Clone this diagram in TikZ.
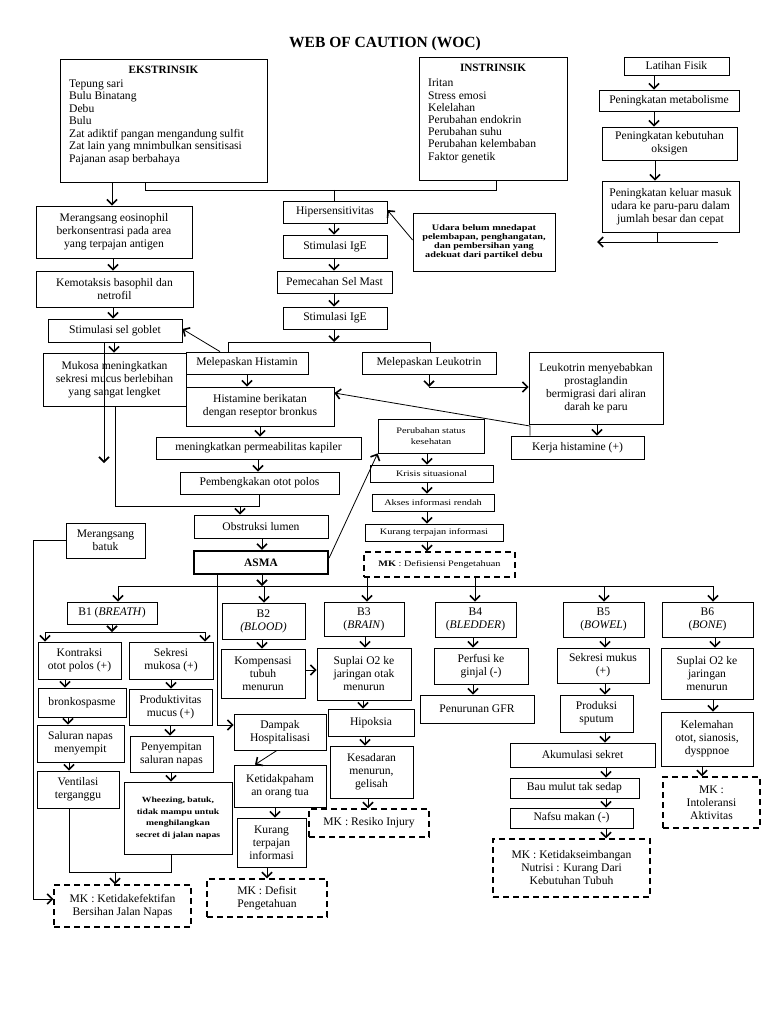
\documentclass[tikz,border=0pt]{standalone}
\usepackage{fontspec}
\setmainfont{Liberation Serif}
\newfontfamily\widefont[FakeStretch=1.22]{Liberation Serif}
\usetikzlibrary{arrows.meta}
\newcommand\mybox[7][]{\node[box,#1,minimum width={(#4-#2)*1pt},minimum height={(#5-#3)*1pt}] (#6) at ({(#2+#4)/2},{(#3+#5)/2}) {#7};}
\begin{document}
\begin{tikzpicture}[x=1pt,y=-1pt,
  box/.style={draw, line width=0.8pt, inner sep=1pt, align=center, font=\fontsize{11.6}{13}\selectfont},
  small/.style={font=\widefont\fontsize{8.4}{11}\selectfont},
  smallb/.style={font=\widefont\bfseries\fontsize{8.4}{9.3}\selectfont},
  mk/.style={dash pattern=on 6pt off 4pt, line width=1.4pt},
  arr/.style={line width=0.8pt, -{Straight Barb[length=5pt,width=10pt,line width=1.6pt]}},
  ln/.style={line width=0.8pt}]
\useasboundingbox (0,0) rectangle (768,1024);
\fill[white] (0,0) rectangle (768,1024);
\node[font=\bfseries\fontsize{15.5}{17}\selectfont] (title) at (385,44) {WEB OF CAUTION (WOC)};
% top boxes
\mybox{60}{59}{267}{182}{ekst}{}
\node[font=\bfseries\fontsize{11.2}{12}\selectfont] (eksttitle) at (163.5,70) {EKSTRINSIK};
\node[anchor=north west, align=left, inner sep=0, font=\fontsize{11.6}{12.5}\selectfont] (ekstlist) at (69,79.5) {Tepung sari\\Bulu Binatang\\Debu\\Bulu\\Zat adiktif pangan mengandung sulfit\\Zat lain yang mnimbulkan sensitisasi\\Pajanan asap berbahaya};
\mybox{419}{57}{567}{180}{instr}{}
\node[font=\bfseries\fontsize{11.2}{12}\selectfont] (instrtitle) at (493,68) {INSTRINSIK};
\node[anchor=north west, align=left, inner sep=0, font=\fontsize{11.6}{12.2}\selectfont] (instrlist) at (428,79) {Iritan\\Stress emosi\\Kelelahan\\Perubahan endokrin\\Perubahan suhu\\Perubahan kelembaban\\Faktor genetik};
\mybox{36}{206}{192}{258}{eos}{Merangsang eosinophil\\berkonsentrasi pada area\\yang terpajan antigen}
\mybox{36}{271}{193}{307}{kemo}{Kemotaksis basophil dan\\netrofil}
\mybox{48}{319}{182}{342}{goblet}{Stimulasi sel goblet}
\mybox{43}{353}{186}{406}{mukosa}{Mukosa meningkatkan\\sekresi mucus berlebihan\\yang sangat lengket}
\mybox{283}{201}{387}{223}{hiper}{Hipersensitivitas}
\mybox{283}{235}{387}{258}{igea}{Stimulasi IgE}
\mybox{277}{271}{392}{293}{mast}{Pemecahan Sel Mast}
\mybox{283}{307}{387}{329}{igeb}{Stimulasi IgE}
\mybox[smallb]{413}{213}{555}{271}{udara}{Udara belum mnedapat\\pelembapan, penghangatan,\\dan pembersihan yang\\adekuat dari partikel debu}
\mybox{624}{57}{729}{75}{latihan}{Latihan Fisik}
\mybox{599}{90}{739}{111}{metab}{Peningkatan metabolisme}
\mybox{602}{127}{737}{160}{kebut}{Peningkatan kebutuhan\\oksigen}
\mybox{602}{181}{739}{232}{keluar}{Peningkatan keluar masuk\\udara ke paru-paru dalam\\jumlah besar dan cepat}
% middle
\mybox{186}{352}{308}{374}{histamin}{Melepaskan Histamin}
\mybox{362}{352}{496}{374}{leuko}{Melepaskan Leukotrin}
\mybox{529}{352}{663}{424}{leukobox}{Leukotrin menyebabkan\\prostaglandin\\bermigrasi dari aliran\\darah ke paru}
\mybox{186}{387}{334}{426}{ikatan}{Histamine berikatan\\dengan reseptor bronkus}
\mybox{511}{436}{644}{459}{kerja}{Kerja histamine (+)}
\mybox{156}{437}{361}{459}{perm}{meningkatkan permeabilitas kapiler}
\mybox{180}{472}{339}{494}{bengkak}{Pembengkakan otot polos}
\mybox{194}{515}{328}{538}{obstruksi}{Obstruksi lumen}
\mybox[line width=2.2pt,font=\bfseries\fontsize{11.4}{12}\selectfont]{194}{551}{328}{574}{asma}{ASMA}
\mybox{66}{523}{145}{558}{batuk}{Merangsang\\batuk}
\mybox[small]{378}{419}{484}{453}{status}{Perubahan status\\kesehatan}
\mybox[small]{370}{465}{493}{482}{krisis}{Krisis situasional}
\mybox[small]{372}{494}{494}{511}{akses}{Akses informasi rendah}
\mybox[small]{365}{524}{503}{541}{kuranga}{Kurang terpajan informasi}
\mybox[small,mk]{364}{552}{515}{577}{mkdef}{\textbf{MK} : Defisiensi Pengetahuan}
% B level
\mybox{67}{602}{157}{624}{ba}{B1 (\textit{BREATH})}
\mybox{222}{603}{305}{639}{bb}{B2\\\textit{(BLOOD)}}
\mybox{324}{602}{404}{636}{bc}{B3\\(\textit{BRAIN})}
\mybox{435}{602}{516}{637}{bd}{B4\\(\textit{BLEDDER})}
\mybox{563}{602}{644}{637}{be}{B5\\(\textit{BOWEL})}
\mybox{662}{602}{753}{637}{bf}{B6\\(\textit{BONE})}
% B1 branch
\mybox{38}{642}{121}{679}{kontraksi}{Kontraksi\\otot polos (+)}
\mybox{129}{642}{213}{679}{sekresi}{Sekresi\\mukosa (+)}
\mybox{38}{688}{126}{717}{bronko}{bronkospasme}
\mybox{129}{689}{212}{725}{produktiv}{Produktivitas\\mucus (+)}
\mybox{37}{725}{124}{762}{saluran}{Saluran napas\\menyempit}
\mybox{130}{736}{213}{772}{penyempitan}{Penyempitan\\saluran napas}
\mybox{37}{771}{119}{808}{ventilasi}{Ventilasi\\terganggu}
\mybox[font=\widefont\bfseries\fontsize{7.9}{11.8}\selectfont]{124}{782}{232}{854}{wheezing}{Wheezing, batuk,\\tidak mampu untuk\\menghilangkan\\secret di jalan napas}
\mybox[mk]{54}{885}{191}{927}{mkbersih}{MK : Ketidakefektifan\\Bersihan Jalan Napas}
% B2, B3
\mybox{221}{649}{305}{698}{kompensasi}{Kompensasi\\tubuh\\menurun}
\mybox{317}{648}{411}{700}{suplaiotak}{Suplai O2 ke\\jaringan otak\\menurun}
\mybox{328}{709}{414}{736}{hipoksia}{Hipoksia}
\mybox{330}{746}{413}{798}{kesadaran}{Kesadaran\\menurun,\\gelisah}
\mybox[mk]{309}{809}{429}{837}{mkinjury}{MK : Resiko Injury}
\mybox{234}{714}{326}{750}{dampak}{Dampak\\Hospitalisasi}
\mybox{234}{765}{326}{807}{ketidak}{Ketidakpaham\\an orang tua}
\mybox{237}{818}{306}{867}{kurangb}{Kurang\\terpajan\\informasi}
\mybox[mk]{207}{879}{327}{917}{mkdefisit}{MK : Defisit\\Pengetahuan}
% B4, B5, B6
\mybox{434}{648}{528}{684}{perfusi}{Perfusi ke\\ginjal (-)}
\mybox{420}{695}{534}{723}{gfr}{Penurunan GFR}
\mybox{557}{648}{649}{683}{sekmukus}{Sekresi mukus\\(+)}
\mybox{560}{695}{633}{732}{sputum}{Produksi\\sputum}
\mybox{510}{743}{655}{767}{akum}{Akumulasi sekret}
\mybox{510}{778}{639}{798}{bau}{Bau mulut tak sedap}
\mybox{510}{808}{633}{828}{nafsu}{Nafsu makan (-)}
\mybox[mk]{493}{839}{650}{897}{mknutrisi}{MK : Ketidakseimbangan\\Nutrisi : Kurang Dari\\Kebutuhan Tubuh}
\mybox{661}{648}{753}{699}{suplaibf}{Suplai O2 ke\\jaringan\\menurun}
\mybox{661}{712}{753}{766}{kelemahan}{Kelemahan\\otot, sianosis,\\dysppnoe}
\mybox[mk]{663}{777}{760}{828}{mkintol}{MK :\\Intoleransi\\Aktivitas}
% free ends
\coordinate (freea) at (104,463);
\coordinate (freeb) at (597,242);
% connectors top
\draw[arr] (ekst.south -| 112,0) -- (eos.north -| 112,0);
\draw[ln] (ekst.south -| 145,0) -- (145,190) -- (496,190) -- (instr.south -| 496,0);
\draw[ln] (334,190) -- (hiper.north -| 334,0);
\draw[arr] (eos.south -| 113,0) -- (kemo.north -| 113,0);
\draw[arr] (kemo.south -| 113,0) -- (goblet.north -| 113,0);
\draw[arr] (goblet.south -| 114,0) -- (mukosa.north -| 114,0);
\draw[arr] (goblet.south -| 104,0) -- (freea);
\draw[arr] (hiper.south -| 334,0) -- (igea.north -| 334,0);
\draw[arr] (igea.south -| 334,0) -- (mast.north -| 334,0);
\draw[arr] (mast.south -| 334,0) -- (igeb.north -| 334,0);
\draw[arr] (igeb.south -| 334,0) -- (334,342);
\draw[ln] (histamin.north -| 228,0) -- (228,342) -- (430,342) -- (leuko.north -| 430,0);
\draw[arr] (udara.west |- 0,240) -- (hiper.east |- 0,210);
\draw[arr] (latihan.south -| 654,0) -- (metab.north -| 654,0);
\draw[arr] (metab.south -| 654,0) -- (kebut.north -| 654,0);
\draw[arr] (kebut.south -| 655,0) -- (keluar.north -| 655,0);
\draw[ln] (keluar.south -| 657,0) -- (657,242);
\draw[arr] (718,242) -- (freeb);
% middle connectors
\draw[arr] (histamin.north -| 220,0) -- (goblet.east |- 0,329);
\draw[arr] (histamin.south -| 247,0) -- (ikatan.north -| 247,0);
\draw[arr] (ikatan.south -| 260,0) -- (perm.north -| 260,0);
\draw[arr] (perm.south -| 258,0) -- (bengkak.north -| 258,0);
\draw[ln] (mukosa.south -| 115,0) -- (115,506) -- (259,506) -- (bengkak.south -| 259,0);
\draw[arr] (240,506) -- (obstruksi.north -| 240,0);
\draw[arr] (obstruksi.south -| 262,0) -- (asma.north -| 262,0);
\draw[arr] (leuko.south -| 429,0) -- (429,387);
\draw[arr] (429,387) -- (leukobox.west |- 0,387);
\draw[arr] (leukobox.south -| 597,0) -- (kerja.north -| 597,0);
\draw[arr] (kerja.north -| 530,0) -- (530,426) -- (ikatan.east |- 0,393);
\draw[arr] (asma.east |- 0,558) -- (status.south west);
\draw[arr] (status.south -| 427,0) -- (krisis.north -| 427,0);
\draw[arr] (krisis.south -| 427,0) -- (akses.north -| 427,0);
\draw[arr] (akses.south -| 427,0) -- (kuranga.north -| 427,0);
\draw[arr] (kuranga.south -| 427,0) -- (mkdef.north -| 427,0);
% bus
\draw[arr] (asma.south -| 262,0) -- (262,586);
\draw[ln] (118,586) -- (713,586);
\draw[arr] (118,586) -- (ba.north -| 118,0);
\draw[arr] (264,586) -- (bb.north -| 264,0);
\draw[arr] (mkdef.south -| 367,0) -- (bc.north -| 367,0);
\draw[arr] (mkdef.south -| 475,0) -- (bd.north -| 475,0);
\draw[arr] (604,586) -- (be.north -| 604,0);
\draw[arr] (713,586) -- (bf.north -| 713,0);
% B1 branch
\draw[arr] (ba.south -| 112,0) -- (112,632);
\draw[ln] (45,632) -- (205,632);
\draw[arr] (45,632) -- (kontraksi.north -| 45,0);
\draw[arr] (205,632) -- (sekresi.north -| 205,0);
\draw[arr] (kontraksi.south -| 65,0) -- (bronko.north -| 65,0);
\draw[arr] (bronko.south -| 68,0) -- (saluran.north -| 68,0);
\draw[arr] (saluran.south -| 69,0) -- (ventilasi.north -| 69,0);
\draw[arr] (sekresi.south -| 171,0) -- (produktiv.north -| 171,0);
\draw[arr] (produktiv.south -| 170,0) -- (penyempitan.north -| 170,0);
\draw[arr] (penyempitan.south -| 171,0) -- (wheezing.north -| 171,0);
\draw[ln] (ventilasi.south -| 69,0) -- (69,872) -- (171,872) -- (wheezing.south -| 171,0);
\draw[arr] (115,872) -- (mkbersih.north -| 115,0);
\draw[arr] (batuk.west) -- (33,540.5) -- (33,899) -- (mkbersih.west |- 0,899);
% B2/B3
\draw[arr] (bb.south -| 262,0) -- (kompensasi.north -| 262,0);
\draw[arr] (kompensasi.east |- 0,670) -- (suplaiotak.west |- 0,670);
\draw[arr] (asma.south -| 217,0) -- (217,725) -- (dampak.west |- 0,725);
\draw[arr] (dampak.south -| 277,0) -- (ketidak.north -| 255,0);
\draw[arr] (ketidak.south -| 275,0) -- (kurangb.north -| 275,0);
\draw[arr] (kurangb.south -| 267,0) -- (mkdefisit.north -| 267,0);
\draw[arr] (bc.south -| 365,0) -- (suplaiotak.north -| 365,0);
\draw[arr] (suplaiotak.south -| 363,0) -- (hipoksia.north -| 363,0);
\draw[arr] (hipoksia.south -| 365,0) -- (kesadaran.north -| 365,0);
\draw[arr] (kesadaran.south -| 368,0) -- (mkinjury.north -| 368,0);
% B4/B5/B6
\draw[arr] (bd.south -| 473,0) -- (perfusi.north -| 473,0);
\draw[arr] (perfusi.south -| 473,0) -- (gfr.north -| 473,0);
\draw[arr] (be.south -| 605,0) -- (sekmukus.north -| 605,0);
\draw[arr] (sekmukus.south -| 605,0) -- (sputum.north -| 605,0);
\draw[arr] (sputum.south -| 605,0) -- (akum.north -| 605,0);
\draw[arr] (akum.south -| 606,0) -- (bau.north -| 606,0);
\draw[arr] (bau.south -| 606,0) -- (nafsu.north -| 606,0);
\draw[arr] (nafsu.south -| 606,0) -- (mknutrisi.north -| 606,0);
\draw[arr] (bf.south -| 715,0) -- (suplaibf.north -| 715,0);
\draw[arr] (suplaibf.south -| 713,0) -- (kelemahan.north -| 713,0);
\draw[arr] (kelemahan.south -| 702,0) -- (mkintol.north -| 702,0);
\end{tikzpicture}
\end{document}
